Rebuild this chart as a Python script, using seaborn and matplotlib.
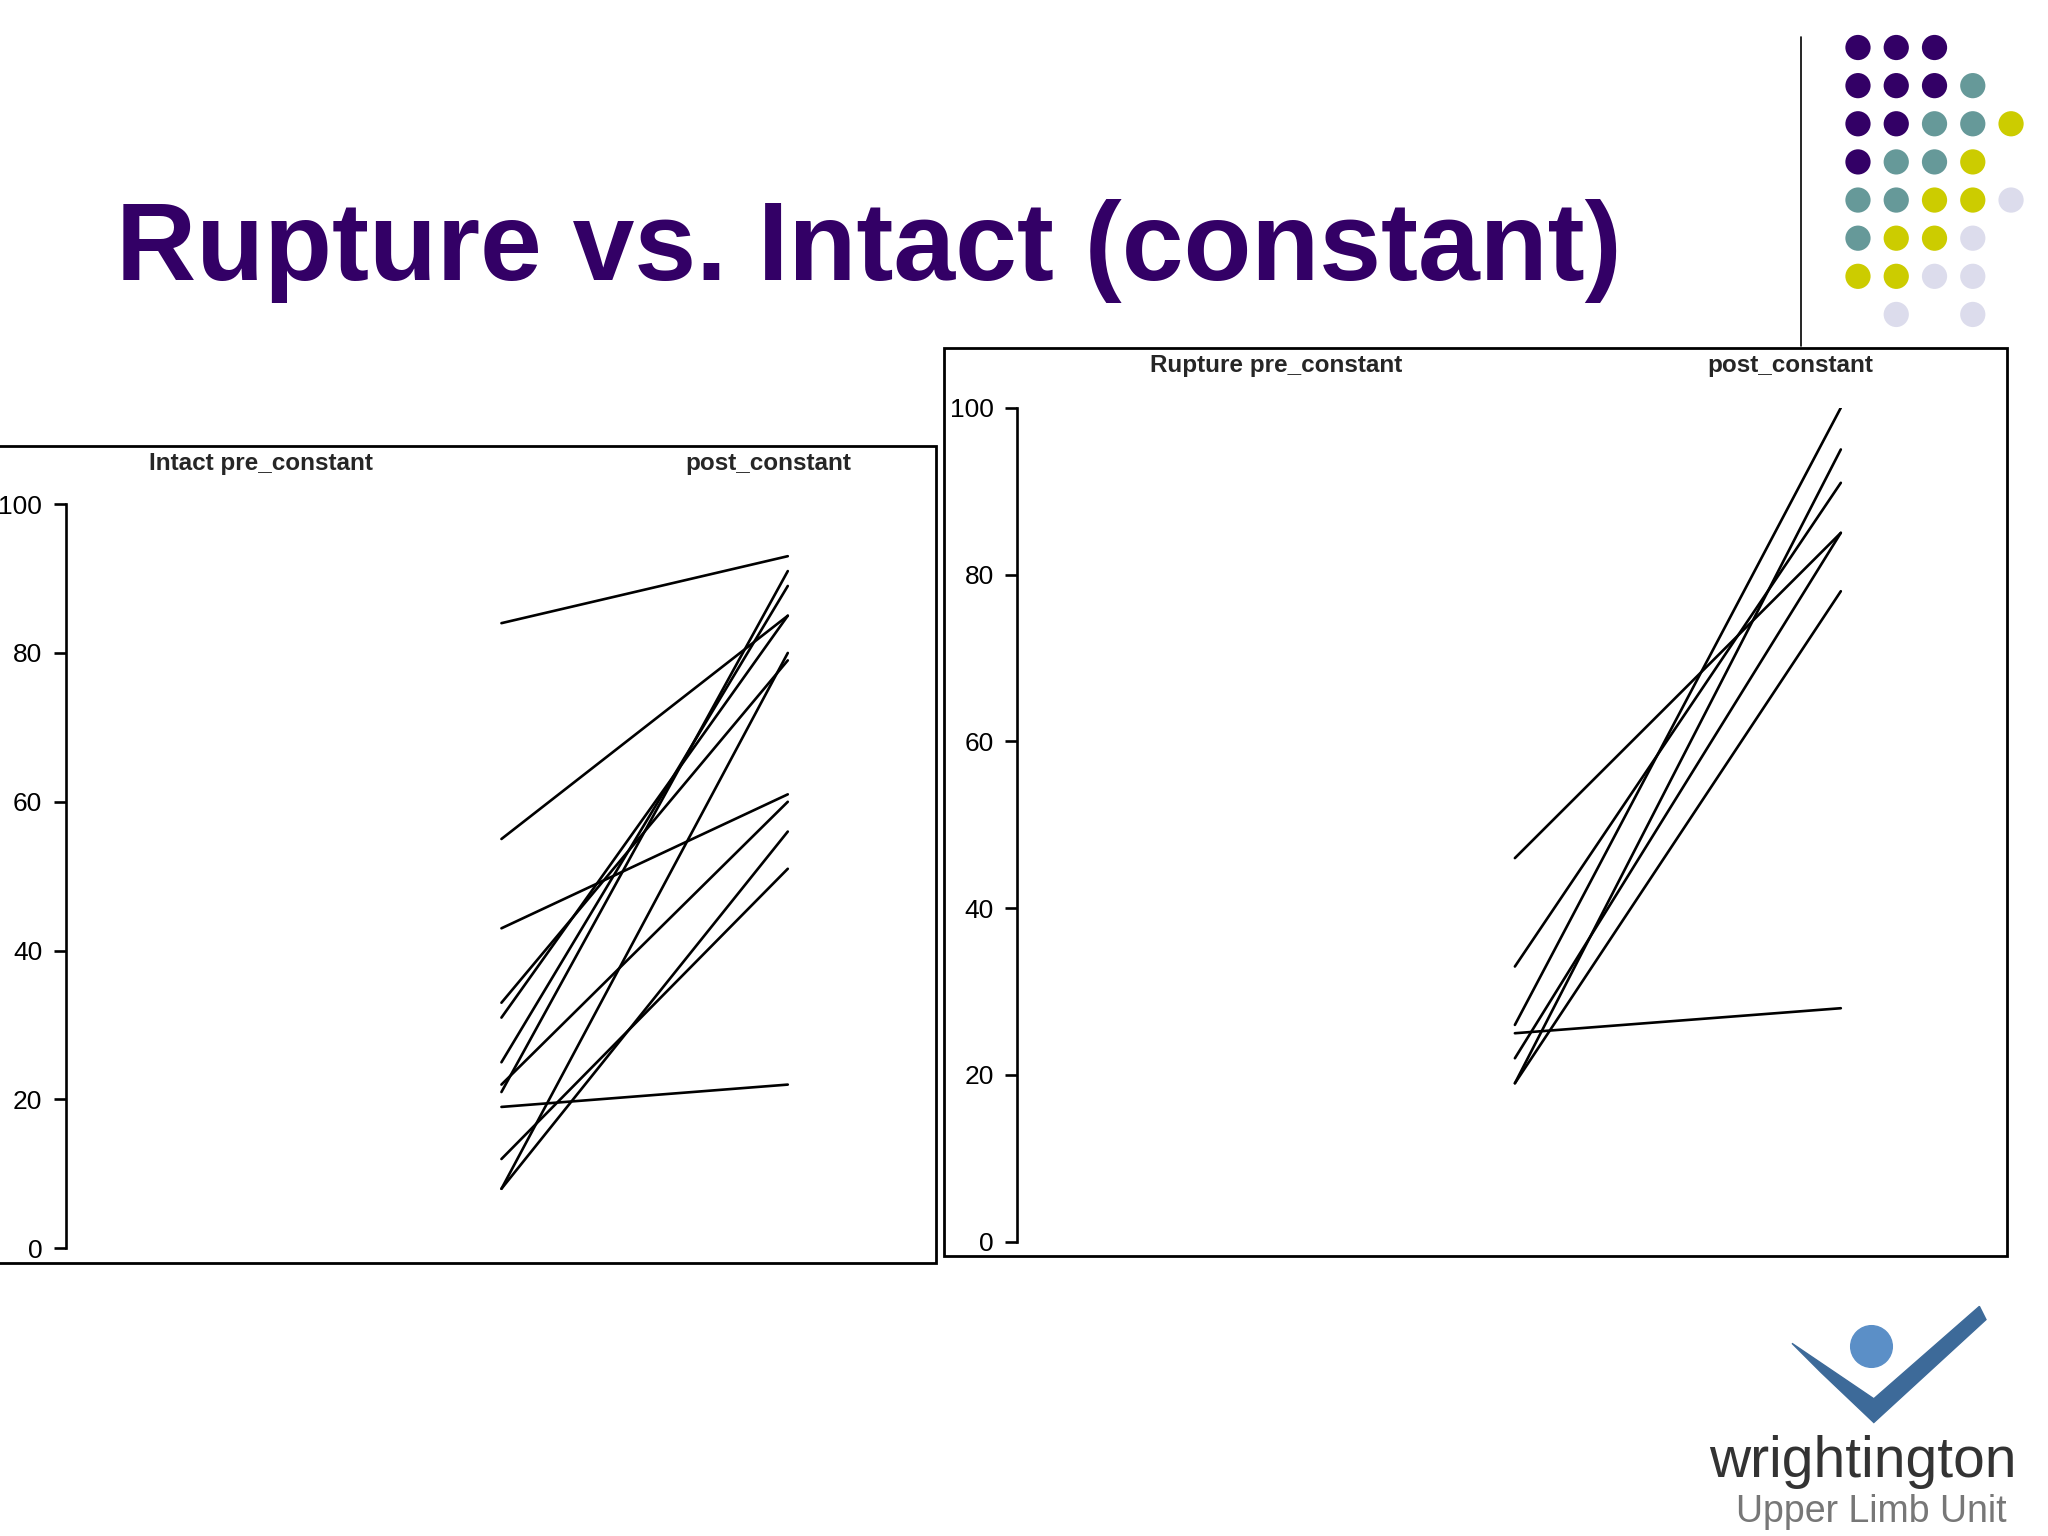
import matplotlib
matplotlib.use("Agg")
import matplotlib.pyplot as plt
import seaborn as sns
import pandas as pd
from matplotlib.patches import Rectangle

sns.set_theme(style="white")
plt.rcParams['font.family'] = ['Liberation Sans', 'DejaVu Sans']

title = "Rupture vs. Intact (constant)"
intact_pre = [84, 55, 43, 19, 33, 31, 25, 21, 22, 12, 8, 8]
intact_post = [93, 85, 61, 22, 79, 85, 89, 91, 60, 51, 80, 56]
rupture_pre = [46, 25, 33, 26, 22, 19, 19]
rupture_post = [85, 28, 91, 100, 85, 95, 78]
yticks = [0, 20, 40, 60, 80, 100]
dot_rows = ["PPP..", "PPPT.", "PPTTY", "PTTY.", "TTYYL", "TYYL.", "YYLL.", ".L.L."]
dot_colors = {"P": "#330066", "T": "#669999", "Y": "#CCCC00", "L": "#DCDCEC"}

W, H = 1552, 1164
fig = plt.figure(figsize=(20.48, 15.36), dpi=100)

def fx(x): return x / W
def fy(y): return 1 - y / H

fig.text(fx(88), fy(190), title, fontsize=80, fontweight='bold', color='#330066', va='center', ha='left')
fig.add_artist(plt.Line2D([fx(1365)] * 2, [fy(28), fy(262)], color='black', lw=1.2))

dax = fig.add_axes([0, 0, 1, 1], facecolor='none')
dax.set_xlim(0, W); dax.set_ylim(H, 0); dax.axis('off')
xs, ys, cs = [], [], []
for r, row in enumerate(dot_rows):
    for c, ch in enumerate(row):
        if ch != '.':
            xs.append(1408 + 29 * c); ys.append(36 + 28.9 * r); cs.append(dot_colors[ch])
dax.scatter(xs, ys, s=330, c=cs, linewidths=0)

def panel(box, axl, axr, y0, y100, xpre, xpost, pre, post, heads, hx, hy):
    bx0, by0, bx1, by1 = box
    fig.add_artist(Rectangle((fx(bx0), fy(by1)), fx(bx1 - bx0), fy(by0) - fy(by1),
                             fill=False, ec='black', lw=2, transform=fig.transFigure))
    ax = fig.add_axes([fx(axl), fy(y0), fx(axr - axl), fy(y100) - fy(y0)], facecolor='none')
    n = len(pre)
    df = pd.DataFrame({"id": list(range(n)) * 2, "t": [0] * n + [1] * n, "v": pre + post})
    sns.lineplot(data=df, x="t", y="v", units="id", estimator=None, color='black', lw=1.9, ax=ax)
    unit = xpost - xpre
    ax.set_xlim((axl - xpre) / unit, 1 + (axr - xpost) / unit)
    ax.set_ylim(0, 100)
    ax.set_yticks(yticks)
    ax.set_xticks([])
    ax.set_xlabel(""); ax.set_ylabel("")
    for s in ['top', 'right', 'bottom']:
        ax.spines[s].set_visible(False)
    ax.spines['left'].set_color('black'); ax.spines['left'].set_linewidth(1.9)
    ax.tick_params(axis='y', direction='out', length=9, width=1.9, colors='black', labelsize=19, pad=8, left=True)
    for t, x in zip(heads, hx):
        fig.text(fx(x), fy(hy), t, fontsize=17.5, fontweight='bold', ha='center', va='center')

panel((-5, 338, 709, 957), 50, 700, 946, 382, 380, 597, intact_pre, intact_post,
      ["Intact pre_constant", "post_constant"], [198, 582], 351)
panel((715, 264, 1521, 952), 771, 1510, 941, 309, 1148, 1395, rupture_pre, rupture_post,
      ["Rupture pre_constant", "post_constant"], [967, 1357], 277)

fig.text(fx(1412), fy(1108), "wrightington", fontsize=41, color='#333333', ha='center', va='center')
fig.text(fx(1418), fy(1146), "Upper Limb Unit", fontsize=27, color='#777777', ha='center', va='center')
dax.fill([1358, 1420, 1500, 1505, 1420, 1380], [1018, 1060, 990, 1000, 1078, 1040], color='#3d6a99')
dax.scatter([1418], [1020], s=900, c='#5b8fc7')

fig.savefig("out.png", dpi=100)
